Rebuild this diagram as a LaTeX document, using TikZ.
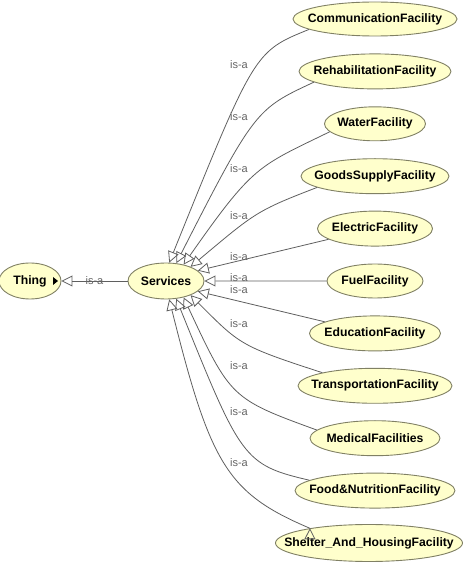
\documentclass[tikz,border=0pt]{standalone}
\usepackage{fontspec}
\usepackage{tikz}
\usetikzlibrary{arrows.meta,shapes.geometric}
\newfontfamily\classfont{Liberation Sans}
\definecolor{nodefill}{RGB}{255,255,204}
\definecolor{nodeborder}{RGB}{128,128,100}
\definecolor{edgegray}{RGB}{95,95,95}
\definecolor{labelgray}{RGB}{100,100,100}
\newcommand{\cname}[1]{\makebox[0pt]{#1}}
\begin{document}
\begin{tikzpicture}[x=1pt,y=1pt,>={Triangle[open,length=11pt,width=11pt]},node distance=52.4pt,
  class node/.style={ellipse,draw=nodeborder,fill=nodefill,line width=0.9pt,inner sep=0pt,minimum height=35pt,
    font=\classfont\bfseries\fontsize{12.2}{14}\selectfont},
  isa label/.style={font=\classfont\fontsize{11}{13}\selectfont,text=labelgray,inner sep=0pt},
  isa edge/.style={->,draw=edgegray,line width=0.8pt}]
  \useasboundingbox (0,0) rectangle (474,563);

  \node[class node,minimum width=62pt,minimum height=36pt] (thing) at (30,282) {\cname{Thing}};
  \node[class node,minimum width=76pt,minimum height=36pt] (services) at (166,282) {\cname{Services}};

  \node[class node,minimum width=164pt,minimum height=34pt] (f1) at (375,544) {\cname{CommunicationFacility}};
  \node[class node,minimum width=152pt] (f2) [below of=f1] {\cname{RehabilitationFacility}};
  \node[class node,minimum width=101pt,minimum height=34pt] (f3) [below of=f2] {\cname{WaterFacility}};
  \node[class node,minimum width=148pt] (f4) [below of=f3] {\cname{GoodsSupplyFacility}};
  \node[class node,minimum width=115pt] (f5) [below of=f4] {\cname{ElectricFacility}};
  \node[class node,minimum width=96pt,minimum height=34pt] (f6) [below of=f5] {\cname{FuelFacility}};
  \node[class node,minimum width=131pt] (f7) [below of=f6] {\cname{EducationFacility}};
  \node[class node,minimum width=154pt] (f8) [below of=f7] {\cname{TransportationFacility}};
  \node[class node,minimum width=130pt] (f9) [below of=f8] {\cname{MedicalFacilities}};
  \node[class node,minimum width=160pt] (f10) [below of=f9] {\cname{Food\&NutritionFacility}};
  \node[class node,minimum width=187pt,minimum height=37pt] (f11) [below of=f10,xshift=-6pt] {\cname{Shelter\_And\_HousingFacility}};

  % expand marker on Thing
  \fill[black] ([shift={(23pt,4pt)}]thing.center) -- ++(0,-8) -- ++(5,4) -- cycle;

  \path[isa edge]
    (services.west) edge node[isa label] (isa0) {is-a} (thing.east)
    (f1.189) edge[out=202,in=68,out distance=59pt,in distance=228pt] (services.80)
    (f2.190) edge[out=205,in=63,out distance=63pt,in distance=173pt] (services.60)
    (f3.190) edge[out=206,in=55,out distance=80pt,in distance=122pt] (services.43)
    (f4.191) edge[out=201,in=40,out distance=65pt,in distance=84pt] (services.30)
    (f5.193) edge (services.18)
    (f6.west) edge (services.east)
    (f7.167) edge (services.-18)
    (f8.166) edge[out=162,in=-45,out distance=87pt,in distance=70pt] (services.-30)
    (f9.172) edge[out=160,in=-65,out distance=91pt,in distance=111pt] (services.-43)
    (f10.171) edge[out=167,in=-68,out distance=68pt,in distance=172pt] (services.-60)
    (f11.166) edge[out=157,in=-76,out distance=90pt,in distance=170pt] (services.-80);

  \node[isa label] (isa1) at (239,498) {is-a};
  \node[isa label] (isa2) at (239,446) {is-a};
  \node[isa label] (isa3) at (239,394) {is-a};
  \node[isa label] (isa4) at (239,347) {is-a};
  \node[isa label] (isa5) at (239,306) {is-a};
  \node[isa label] (isa6) at (239,285) {is-a};
  \node[isa label] (isa7) at (239,273) {is-a};
  \node[isa label] (isa8) at (239,239) {is-a};
  \node[isa label] (isa9) at (239,197) {is-a};
  \node[isa label] (isa10) at (239,151) {is-a};
  \node[isa label] (isa11) at (239,100) {is-a};
\end{tikzpicture}
\end{document}
